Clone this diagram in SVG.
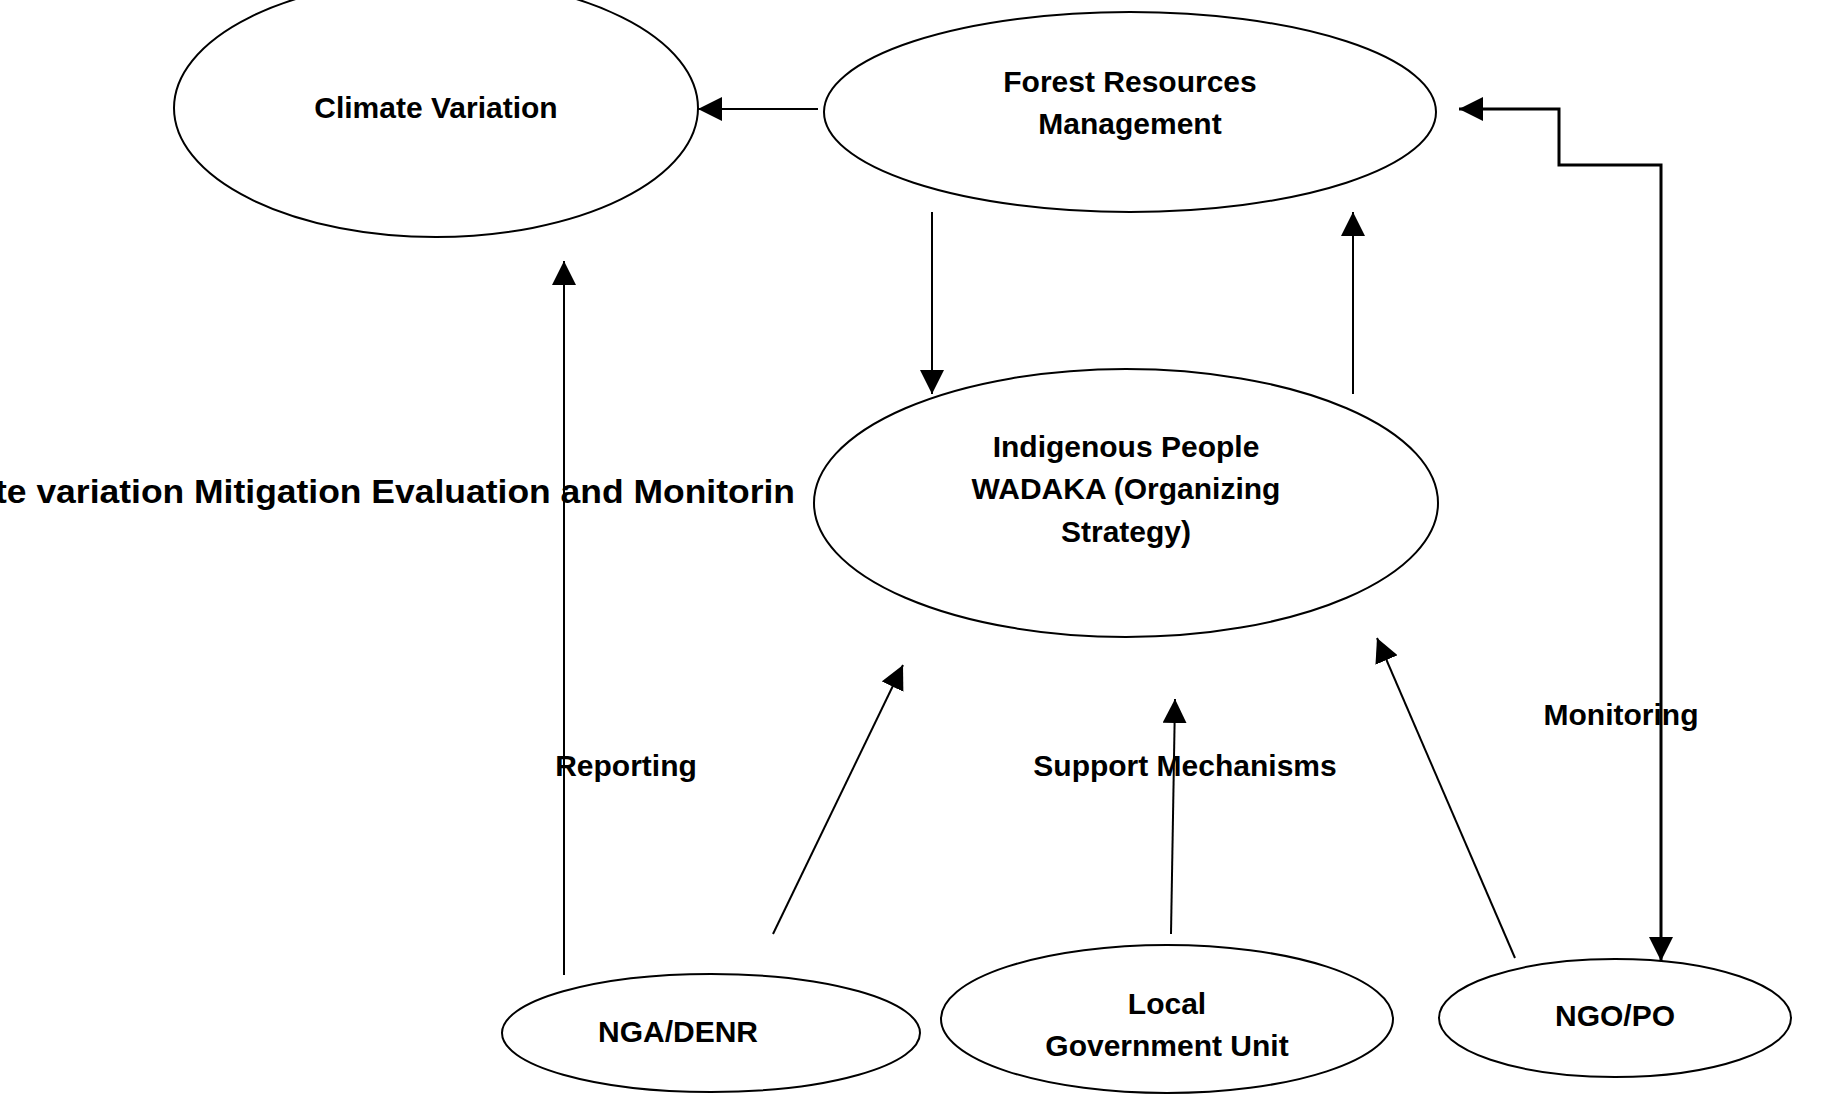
<svg xmlns="http://www.w3.org/2000/svg" width="1821" height="1103" viewBox="0 0 1821 1103">
<style>
ellipse{fill:#fff;stroke:#000;stroke-width:2}
text{font-family:"Liberation Sans Narrow","Liberation Sans",Arial,sans-serif;font-weight:bold;font-size:30px;text-anchor:middle;fill:#000}
.c{stroke:#000;stroke-width:2;fill:none}
.t{stroke-width:3}
</style>
<defs>
<marker id="b" viewBox="0 0 10 10" refX="10" refY="5" markerWidth="24" markerHeight="24" markerUnits="userSpaceOnUse" orient="auto-start-reverse"><path d="M0,0L10,5L0,10z" fill="#000"/></marker></defs>
<g id="climate"><ellipse cx="436" cy="108" rx="262" ry="129"/><text x="436" y="118">Climate Variation</text></g>
<g id="forest"><ellipse cx="1130" cy="112" rx="306" ry="100"/><text x="1130" y="92">Forest Resources</text><text x="1130" y="134">Management</text></g>
<g id="indigenous"><ellipse cx="1126" cy="503" rx="312" ry="134"/><text x="1126" y="457">Indigenous People</text><text x="1126" y="499">WADAKA (Organizing</text><text x="1126" y="542">Strategy)</text></g>
<g id="nga"><ellipse cx="711" cy="1033" rx="209" ry="59"/><text x="678" y="1042">NGA/DENR</text></g>
<g id="lgu"><ellipse cx="1167" cy="1019" rx="226" ry="74"/><text x="1167" y="1014">Local</text><text x="1167" y="1056">Government Unit</text></g>
<g id="ngo"><ellipse cx="1615" cy="1018" rx="176" ry="59"/><text x="1615" y="1026">NGO/PO</text></g>
<g id="connectors">
<path class="c" d="M818,109H698" marker-end="url(#b)"/>
<path class="c" d="M932,212V394" marker-end="url(#b)"/>
<path class="c" d="M1353,394V212" marker-end="url(#b)"/>
<path class="c" d="M564,975V261" marker-end="url(#b)"/>
<path class="c" d="M773,934L903,665" marker-end="url(#b)"/>
<path class="c" d="M1171,934L1175,699" marker-end="url(#b)"/>
<path class="c" d="M1515,958L1377,638" marker-end="url(#b)"/>
<path class="c t" d="M1661,961V165H1559V109H1459" marker-start="url(#b)" marker-end="url(#b)"/>
</g>
<text x="795" y="503" style="text-anchor:end;font-size:34px" textLength="800" lengthAdjust="spacingAndGlyphs">te variation Mitigation Evaluation and Monitorin</text>
<text x="626" y="776">Reporting</text>
<text x="1185" y="776">Support Mechanisms</text>
<text x="1621" y="725">Monitoring</text>
</svg>
